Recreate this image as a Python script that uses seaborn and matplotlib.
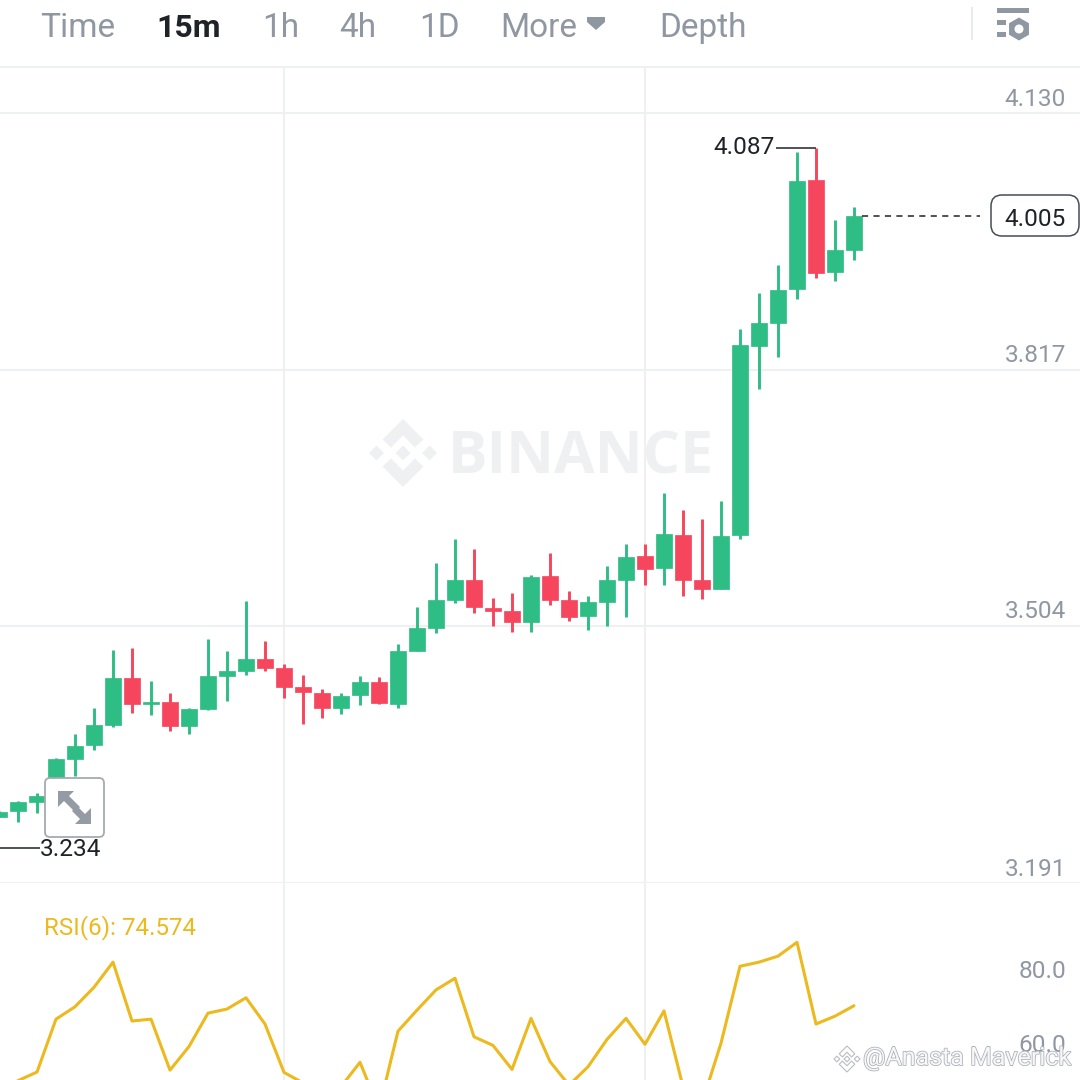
import numpy as np
import pandas as pd
import matplotlib
matplotlib.use('Agg')
import matplotlib.pyplot as plt
import matplotlib.patheffects as pe
from matplotlib.patches import FancyBboxPatch, Polygon, Rectangle, Circle, RegularPolygon
import seaborn as sns

# 15m candles, left to right
opens = [3.272, 3.279, 3.290, 3.297, 3.342, 3.359, 3.384, 3.441, 3.409, 3.412, 3.383, 3.403, 3.444, 3.449, 3.464, 3.453,
         3.430, 3.423, 3.405, 3.420, 3.436, 3.409, 3.474, 3.502, 3.536, 3.561, 3.526, 3.523, 3.509, 3.565, 3.536, 3.516,
         3.534, 3.561, 3.590, 3.575, 3.615, 3.560, 3.550, 3.615, 3.846, 3.874, 3.915, 4.048, 3.936, 3.963]
closes = [3.278, 3.290, 3.297, 3.342, 3.358, 3.384, 3.441, 3.409, 3.412, 3.382, 3.403, 3.443, 3.449, 3.464, 3.453, 3.430,
          3.424, 3.405, 3.419, 3.436, 3.410, 3.474, 3.502, 3.536, 3.561, 3.528, 3.523, 3.509, 3.564, 3.536, 3.515, 3.534,
          3.561, 3.589, 3.574, 3.616, 3.561, 3.550, 3.614, 3.847, 3.874, 3.914, 4.047, 3.935, 3.963, 4.005]
highs = [3.279, 3.291, 3.301, 3.344, 3.373, 3.405, 3.475, 3.478, 3.437, 3.423, 3.405, 3.488, 3.474, 3.535, 3.486, 3.458,
         3.445, 3.428, 3.423, 3.443, 3.442, 3.482, 3.527, 3.581, 3.610, 3.598, 3.538, 3.545, 3.566, 3.593, 3.547, 3.541,
         3.578, 3.604, 3.604, 3.667, 3.646, 3.635, 3.657, 3.866, 3.911, 3.945, 4.083, 4.087, 3.999, 4.015]
lows = [3.271, 3.265, 3.276, 3.296, 3.322, 3.353, 3.381, 3.398, 3.396, 3.376, 3.373, 3.402, 3.413, 3.445, 3.449, 3.417,
        3.385, 3.392, 3.397, 3.408, 3.409, 3.404, 3.474, 3.496, 3.533, 3.520, 3.504, 3.497, 3.497, 3.530, 3.511, 3.499,
        3.505, 3.515, 3.555, 3.555, 3.541, 3.537, 3.550, 3.610, 3.794, 3.833, 3.903, 3.929, 3.925, 3.951]
rsi = [50.0, 54.6, 56.9, 71.0, 74.3, 79.5, 86.2, 70.5, 71.0, 57.4, 63.7, 72.6, 73.7, 76.7, 69.7, 56.8,
       54.0, 51.0, 53.0, 59.5, 47.0, 67.8, 73.4, 78.8, 81.9, 66.3, 64.0, 57.6, 71.2, 59.7, 53.4, 58.3,
       65.6, 71.2, 64.3, 73.2, 53.0, 48.6, 64.6, 85.1, 86.2, 87.8, 91.5, 69.7, 71.8, 74.574]

price_ticks = [4.130, 3.817, 3.504, 3.191]
rsi_ticks = [80.0, 60.0]
time_ticks = [15, 34]
tabs = ['Time', '15m', '1h', '4h', '1D', 'More', 'Depth']
tab_x = [41, 157, 263, 340, 420, 501, 660]

GREEN = '#2ebd85'
RED = '#f6465d'
GRID = '#eef0f2'
GREY = '#8f97a3'
DARK = '#1e2329'
YELLOW = '#ecb91e'

sns.set_theme(style='white')
plt.rcParams['font.family'] = ['Roboto', 'DejaVu Sans']

df = pd.DataFrame({'open': opens, 'close': closes, 'high': highs, 'low': lows, 'rsi': rsi})
df['idx'] = np.arange(len(df))
df['up'] = df['close'] >= df['open']
df['color'] = np.where(df['up'], GREEN, RED)


def to_idx(px):
    # pixel column -> candle index
    return (px + 1.0) / 19.0


fig = plt.figure(figsize=(10.8, 10.8), dpi=100, facecolor='white')


def panel(top, bottom):
    return [0, 1 - bottom / 1080, 1, (bottom - top) / 1080]


def overlay(z):
    a = fig.add_axes([0, 0, 1, 1], zorder=z)
    a.set_xlim(0, 1080)
    a.set_ylim(1080, 0)
    a.axis('off')
    a.patch.set_alpha(0)
    return a


def logo(a, cx, cy, s, **kw):
    top = [(0, -1), (0.6, -0.4), (0.35, -0.16), (0, -0.52), (-0.35, -0.16), (-0.6, -0.4)]
    small = [(0.22, 0), (0, 0.22), (-0.22, 0), (0, -0.22)]
    shapes = [top, [(x, -y) for x, y in top]]
    for off in (-0.78, 0, 0.78):
        shapes.append([(x + off, y) for x, y in small])
    for sh in shapes:
        a.add_patch(Polygon([(cx + x * s, cy + y * s) for x, y in sh], closed=True, **kw))


# watermark sits under the candles
back = overlay(0)
logo(back, 403, 453, 34, facecolor='#eff0f1', edgecolor='none')
back.text(448, 458, 'BINANCE', fontsize=42.5, fontweight='bold', family='Open Sans', color='#eff0f1', va='center', ha='left')

# main candle panel
ax = fig.add_axes(panel(67, 883), zorder=1)
ax.patch.set_alpha(0)
for p in price_ticks:
    ax.axhline(p, color=GRID, lw=1.5, zorder=1)
for t in time_ticks:
    ax.axvline(t, color=GRID, lw=1.5, zorder=1)
ax.vlines(df['idx'], df['low'], df['high'], colors=df['color'], lw=2.1, zorder=3)
body_low = df[['open', 'close']].min(axis=1)
body_h = (df['close'] - df['open']).abs()
ax.bar(df['idx'], body_h, bottom=body_low, width=0.84, color=df['color'], edgecolor=df['color'], linewidth=0.5, zorder=4)
ax.set_xlim(to_idx(0), to_idx(1080))
ax.set_ylim(3.191, 4.130 + 46 / 820)
ax.axis('off')

# max, min and last price markers
max_price = df['high'].max()
ax.hlines(max_price, to_idx(776), df['high'].idxmax(), color=DARK, lw=1.1, zorder=5)
ax.hlines(3.234, to_idx(0), to_idx(40), color=DARK, lw=1.1, zorder=5)
ax.hlines(df['close'].iloc[-1], to_idx(862), to_idx(980), color=DARK, lw=1.1, linestyles=(0, (4, 3.5)), zorder=5)

# RSI panel
ax2 = fig.add_axes(panel(883, 1080), zorder=1)
ax2.patch.set_alpha(0)
for t in time_ticks:
    ax2.axvline(t, color=GRID, lw=1.5, zorder=1)
sns.lineplot(data=df, x='idx', y='rsi', color=YELLOW, linewidth=2.2, errorbar=None, ax=ax2, zorder=3)
ax2.set_xlim(to_idx(0), to_idx(1080))
ax2.set_ylim(80 - 94.6 / 3.75, 80 + 102.4 / 3.75)
ax2.axis('off')

# header, labels and icons in pixel space
top = overlay(3)
for name, x in zip(tabs, tab_x):
    active = name == '15m'
    top.text(x - 1, 28, name, fontsize=23 if active else 24, ha='left', va='center',
             color=DARK if active else GREY, fontweight='bold' if active else 'normal')
top.add_patch(Polygon([(587, 17), (605, 17), (605, 22), (596, 30), (587, 22)], closed=True, facecolor=GREY, edgecolor='none'))
top.add_patch(Rectangle((0, 65.5), 1080, 2.5, facecolor=GRID, edgecolor='none'))
top.add_patch(Rectangle((971, 7), 2, 33, facecolor='#e8eaec', edgecolor='none'))
top.add_patch(Rectangle((997, 8), 32, 5, facecolor=GREY, edgecolor='none'))
top.add_patch(Rectangle((997, 20), 9, 5, facecolor=GREY, edgecolor='none'))
top.add_patch(Rectangle((997, 32), 9, 5, facecolor=GREY, edgecolor='none'))
top.add_patch(RegularPolygon((1019, 29), 6, radius=11.5, facecolor=GREY, edgecolor='none'))
top.add_patch(Circle((1019, 29), 4.5, facecolor='white', edgecolor='none'))

for p, y in zip(price_ticks, [99, 356, 612, 869]):
    top.text(1066, y, f'{p:.3f}', fontsize=17.6, color=GREY, ha='right', va='center')
for r, y in zip(rsi_ticks, [971, 1046]):
    top.text(1066, y, f'{r:.1f}', fontsize=17.6, color=GREY, ha='right', va='center')

top.text(775, 148, f'{max_price:.3f}', fontsize=17.6, color=DARK, ha='right', va='center')
top.text(40, 849, '3.234', fontsize=17.6, color=DARK, ha='left', va='center')
top.add_patch(FancyBboxPatch((991, 195), 88, 41, boxstyle='round,pad=0,rounding_size=11',
                             facecolor='white', edgecolor='#474d57', lw=1.1))
top.text(1066, 219, f'{closes[-1]:.3f}', fontsize=17.6, color=DARK, ha='right', va='center')
top.text(44, 928, f'RSI(6): {rsi[-1]:.3f}', fontsize=17.4, color=YELLOW, ha='left', va='center')

# expand button
top.add_patch(FancyBboxPatch((45, 778), 59, 59, boxstyle='round,pad=0,rounding_size=5',
                             facecolor='white', edgecolor='#a5aab2', lw=1.3))
top.add_patch(Polygon([(58, 791), (74, 791), (69, 796), (80, 807), (75, 812), (64, 801), (58, 807)], closed=True,
                      facecolor='#959ba5', edgecolor='none'))
top.add_patch(Polygon([(91, 824), (75, 824), (80, 819), (72, 811), (77, 806), (85, 814), (91, 808)], closed=True,
                      facecolor='#959ba5', edgecolor='none'))

# author stamp
logo(top, 847, 1059, 13, facecolor='white', edgecolor='#b8bcc2', lw=0.8)
top.text(863, 1058, '@Anasta Maverick', fontsize=18, color='#f7f7f8', ha='left', va='center',
         path_effects=[pe.withStroke(linewidth=1.2, foreground='#aeb3ba')])

fig.savefig('out.png', dpi=100, facecolor='white')
plt.close(fig)
